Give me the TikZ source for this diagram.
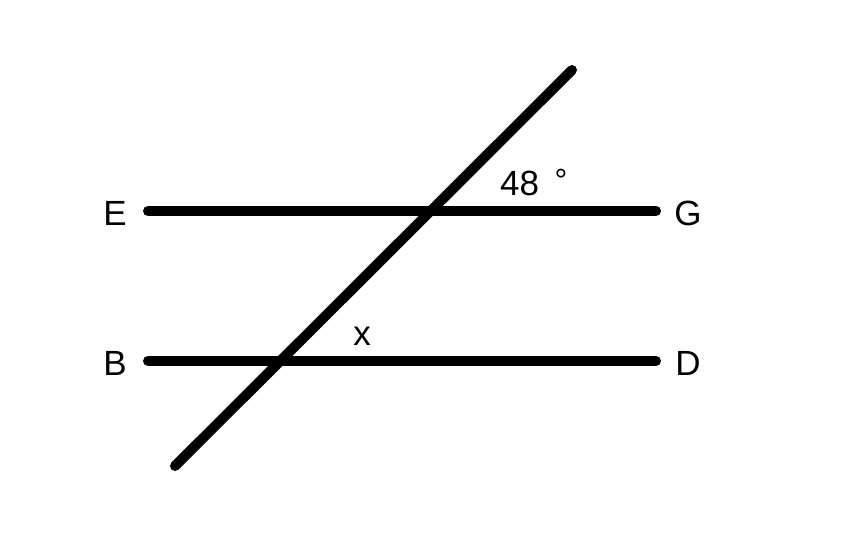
\documentclass[tikz,border=0pt]{standalone}
\usepackage{fontspec}
\setmainfont{Liberation Sans}
\begin{document}
\begin{tikzpicture}[x=1pt,y=-1pt,
  seg/.style={line width=10pt,line cap=round},
  lbl/.style={inner sep=0pt,anchor=base,font=\fontsize{35}{40}\selectfont}]
\useasboundingbox (0,0) rectangle (844,544);
\fill[white] (0,0) rectangle (844,544);
\coordinate (e1) at (148,211);
\coordinate (g1) at (656,211);
\coordinate (b1) at (148,361);
\coordinate (d1) at (656,361);
\coordinate (t1) at (175,466);
\coordinate (t2) at (572,70);
\draw[seg] (e1) -- (g1);
\draw[seg] (b1) -- (d1);
\draw[seg] (t1) -- (t2);
\node[lbl] (E) at (115,225) {E};
\node[lbl] (G) at (688,225) {G};
\node[lbl] (B) at (115,375) {B};
\node[lbl] (D) at (688,375) {D};
\node[lbl,anchor=base west] (ang) at (500,195) {48};
\node[lbl,font=\fontsize{32}{40}\selectfont] (deg) at (561,191) {°};
\node[lbl] (x) at (362,345) {x};
\end{tikzpicture}
\end{document}
